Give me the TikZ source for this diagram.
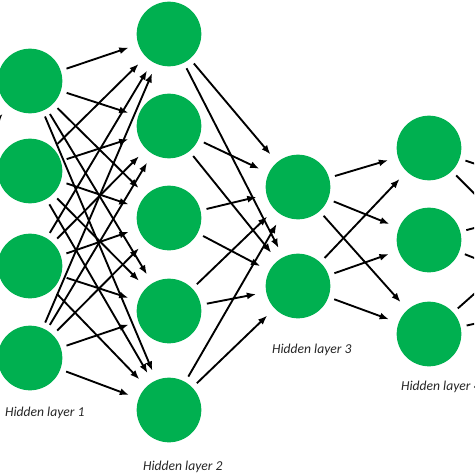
\documentclass[tikz,border=0pt]{standalone}
\usepackage{fontspec}
\setmainfont{Carlito}
\usepackage{tikz}
\usetikzlibrary{arrows.meta}
\definecolor{nngreen}{HTML}{00B050}

\begin{document}
\begin{tikzpicture}[x=0.03cm, y=-0.03cm,
    neuron/.style={circle, fill=nngreen, draw=none, minimum size=1.94cm, inner sep=0pt},
    link/.style={line width=1.6pt, -{Latex[length=8pt,width=6pt]}, shorten <=0.18cm, shorten >=0.3cm},
    stub/.style={line width=1.6pt, shorten <=0.18cm},
    layerlabel/.style={anchor=west, font=\fontsize{11.6}{13}\selectfont\itshape, text=black!85}]
    \useasboundingbox (0,0) rectangle (474,474);
    \clip (0,0) rectangle (474,474);
    % neurons
    \foreach \y [count=\i] in {81,171,266,358}
        \node[neuron] (h1-\i) at (30,\y) {};
    \foreach \y [count=\i] in {34,126,218,311,410}
        \node[neuron] (h2-\i) at (169,\y) {};
    \foreach \y [count=\i] in {187,286}
        \node[neuron] (h3-\i) at (298,\y) {};
    \foreach \y [count=\i] in {148,240,334}
        \node[neuron] (h4-\i) at (429,\y) {};
    % ends outside the frame
    \coordinate (in1) at (-40,165);
    \coordinate (out1) at (580,200);
    \coordinate (out2) at (580,300);
    % connections
    \draw[link] (in1) -- (h1-1);
    \foreach \i in {1,...,4}
        \foreach \j in {1,...,5}
            \draw[link] (h1-\i) -- (h2-\j);
    \foreach \i in {1,...,5}
        \foreach \j in {1,2}
            \draw[link] (h2-\i) -- (h3-\j);
    \foreach \i in {1,2}
        \foreach \j in {1,2,3}
            \draw[link] (h3-\i) -- (h4-\j);
    \foreach \i in {1,2,3} {
        \draw[stub] (h4-\i) -- (out1);
        \draw[stub] (h4-\i) -- (out2);
    }
    % labels
    \node[layerlabel] (lab1) at (1,413) {Hidden layer 1};
    \node[layerlabel] (lab2) at (139,467) {Hidden layer 2};
    \node[layerlabel] (lab3) at (268,350) {Hidden layer 3};
    \node[layerlabel] (lab4) at (397,387) {Hidden layer 4};
\end{tikzpicture}
\end{document}
